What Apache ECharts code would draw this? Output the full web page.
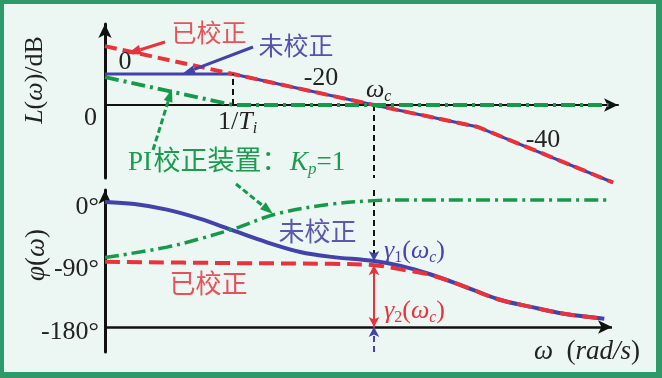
<!DOCTYPE html>
<html><head><meta charset="utf-8">
<script src="https://cdn.jsdelivr.net/npm/echarts@6/dist/echarts.min.js"></script>
<style>
html,body{margin:0;padding:0;background:#ecf7f3}
#c{position:absolute;left:0;top:0;width:662px;height:378px;z-index:0}
#frame{position:absolute;left:0;top:0;width:662px;height:378px;box-sizing:border-box;
border-style:solid;border-color:#2f9a69;border-width:4px 6px 6px 4px;z-index:2;pointer-events:none}
</style>
</head><body><div id="c"></div><div id="frame"></div>
<script>
// ---- data (ω in rad/s, log scale; L in dB; φ in degrees) ----
const magW       = [0.1236, 1, 10, 54.7, 495];
const magUncorr  = [20, 20, 0, -14.2, -50];
const magCorr    = [38, 20, 0, -14.2, -50];
const magPIW     = [0.1236, 1, 10, 460];
const magPI      = [18, 0, 0, 0];
const phUncorrW  = [0.1236, 0.2, 0.34, 0.58, 1, 1.74, 3, 5, 10, 15.5, 25, 43, 76, 130, 223, 430];
const phUncorr   = [0, -3, -11, -24, -41, -58, -72, -79, -85, -92, -104, -121, -140, -151, -161, -168];
const phCorrW    = [0.1236, 1, 5, 10, 15.5, 25, 43, 76, 130, 223, 430];
const phCorr     = [-86, -88, -89, -91, -97, -105, -121, -140, -151, -161, -168];
const phPIW      = [0.1236, 0.34, 0.58, 1, 2.05, 5, 10, 19, 460];
const phPI       = [-80, -65, -53, -39, -17, -3, 2, 3, 3];
const magTickValues   = [0];
const phaseTickValues = [0, -90, -180];
const wTi = 1, wC = 10;

const zip = (xs, ys) => xs.map((x, i) => [x, ys[i]]);
const at = (xs, ys, x) => ys[xs.indexOf(x)];

const RED = '#e8323c', BLUE = '#4242a8', GREEN = '#16994a', BLACK = '#111';
const SERIF = '"Liberation Serif","Times New Roman",serif';
const MIX = '"Liberation Serif","Noto Sans CJK SC",serif';

const chart = echarts.init(document.getElementById('c'), null, {renderer: 'canvas'});

function rich(size, color) {
  const sub = Math.round(size * 0.62);
  return {
    i: {fontStyle: 'italic', fontSize: size, fontFamily: SERIF, fill: color, color: color},
    c: {fontSize: size, fontFamily: MIX, fill: color, color: color, padding: [0, 1.5, 0, 1.5]},
    s: {fontStyle: 'italic', fontSize: sub, fontFamily: SERIF, fill: color, color: color, verticalAlign: 'bottom'},
    d: {fontSize: sub, fontFamily: SERIF, fill: color, color: color, verticalAlign: 'bottom'}
  };
}
function T(x, y, text, color, size, align, extra) {
  return Object.assign({
    type: 'text', x: x, y: y, z: 100,
    style: {text: text, fill: color, fontSize: size, fontFamily: MIX,
      align: align || 'left', textAlign: align || 'left', verticalAlign: 'middle', textVerticalAlign: 'middle',
      lineHeight: size + 4, rich: rich(size, color)}
  }, extra || {});
}
function arrow(x1, y1, x2, y2, color, lw, hl, hw, dash) {
  const a = Math.atan2(y2 - y1, x2 - x1);
  const bx = x2 - hl * Math.cos(a), by = y2 - hl * Math.sin(a);
  const px = -Math.sin(a) * hw / 2, py = Math.cos(a) * hw / 2;
  return [
    {type: 'line', z: 100, shape: {x1: x1, y1: y1, x2: bx, y2: by}, style: {stroke: color, lineWidth: lw, lineDash: dash || null}},
    {type: 'polygon', z: 100, shape: {points: [[x2, y2], [bx + px, by + py], [bx - px, by - py]]}, style: {fill: color}}
  ];
}

const phWcU = at(phUncorrW, phUncorr, wC);
const phWcC = at(phCorrW, phCorr, wC);
const PH_MIN = -216, PH_MAX = 17.3, PH_AXIS = -180;

const option = {
  backgroundColor: 'transparent',
  animation: false,
  grid: [
    {left: 105, top: 24, width: 513, height: 154},
    {left: 105, top: 190, width: 507, height: 162}
  ],
  xAxis: [
    {gridIndex: 0, type: 'log', logBase: 10, min: 0.1236, max: 537,
     axisLine: {onZero: true, lineStyle: {color: BLACK, width: 2}, symbol: ['none', 'arrow'], symbolSize: [10, 14]},
     axisTick: {show: false}, axisLabel: {show: false}, splitLine: {show: false}},
    {gridIndex: 1, type: 'log', logBase: 10, min: 0.1236, max: 488,
     axisLine: {show: false}, axisTick: {show: false}, axisLabel: {show: false}, splitLine: {show: false}}
  ],
  yAxis: [
    {gridIndex: 0, type: 'value', min: -47.1, max: 52.3,
     axisLine: {show: true, onZero: false, lineStyle: {color: BLACK, width: 3}, symbol: ['none', 'arrow'], symbolSize: [10, 14]},
     axisTick: {show: false}, splitLine: {show: false},
     axisLabel: {customValues: magTickValues, formatter: v => String(v), margin: 8,
       fontSize: 26, fontFamily: SERIF, color: '#222', verticalAlign: 'top'}},
    {gridIndex: 1, type: 'value', min: PH_MIN, max: PH_MAX,
     axisLine: {show: true, onZero: false, lineStyle: {color: BLACK, width: 3}, symbol: ['none', 'arrow'], symbolSize: [10, 14]},
     axisTick: {show: false}, splitLine: {show: false},
     axisLabel: {customValues: phaseTickValues, formatter: v => '{a|' + v + '°}', margin: 6,
       rich: {a: {fontSize: 26, fontFamily: SERIF, color: '#222', padding: [10, 0, 0, 0]}}}}
  ],
  series: [
    {type: 'line', xAxisIndex: 0, yAxisIndex: 0, data: zip(magW, magUncorr), clip: false, symbol: 'none',
     lineStyle: {color: BLUE, width: 3}, z: 3,
     markLine: {silent: true, symbol: 'none', label: {show: false},
       lineStyle: {color: BLACK, width: 2, type: [6, 4]},
       data: [
         [{coord: [wTi, 0]}, {coord: [wTi, at(magW, magUncorr, wTi)]}],
         [{coord: [wC, 0]}, {coord: [wC, -47.1]}]
       ]}},
    {type: 'line', xAxisIndex: 0, yAxisIndex: 0, data: zip(magW, magCorr), clip: false, symbol: 'none',
     lineStyle: {color: RED, width: 4, type: [12, 6]}, z: 4},
    {type: 'line', xAxisIndex: 0, yAxisIndex: 0, data: zip(magPIW, magPI), clip: false, symbol: 'none',
     lineStyle: {color: GREEN, width: 4, type: [14, 5, 3, 5]}, z: 5},

    // -180° horizontal axis of the phase plot
    {type: 'line', xAxisIndex: 1, yAxisIndex: 1, data: [], z: 2,
     markLine: {silent: true, label: {show: false}, symbol: ['none', 'arrow'], symbolSize: [10, 14],
       lineStyle: {color: BLACK, width: 2.5, type: 'solid'},
       data: [{yAxis: PH_AXIS}]}},

    {type: 'line', xAxisIndex: 1, yAxisIndex: 1, data: zip(phUncorrW, phUncorr), clip: false, symbol: 'none', smooth: 0.35,
     lineStyle: {color: BLUE, width: 4}, z: 3,
     markLine: {silent: true, label: {show: false}, symbol: 'none',
       data: [
         [{coord: [wC, PH_MAX], lineStyle: {color: BLACK, width: 2, type: [6, 4]}}, {coord: [wC, phWcU + 6]}],
         [{coord: [wC, phWcU + 8], symbol: 'none', lineStyle: {color: BLUE, width: 2, type: 'solid'}},
          {coord: [wC, phWcU], symbol: 'arrow', symbolSize: [8, 10]}],
         [{coord: [wC, phWcC], symbol: 'arrow', symbolSize: [8, 10], lineStyle: {color: RED, width: 2, type: 'solid'}},
          {coord: [wC, PH_AXIS], symbol: 'arrow', symbolSize: [8, 10]}],
         [{coord: [wC, PH_MIN], symbol: 'none', lineStyle: {color: BLUE, width: 2, type: [6, 4]}},
          {coord: [wC, PH_AXIS], symbol: 'arrow', symbolSize: [8, 10]}]
       ]}},
    {type: 'line', xAxisIndex: 1, yAxisIndex: 1, data: zip(phCorrW, phCorr), clip: false, symbol: 'none', smooth: 0.35,
     lineStyle: {color: RED, width: 4, type: [15, 7]}, z: 4},
    {type: 'line', xAxisIndex: 1, yAxisIndex: 1, data: zip(phPIW, phPI), clip: false, symbol: 'none', smooth: 0.35,
     lineStyle: {color: GREEN, width: 3.5, type: [14, 5, 3, 5]}, z: 5}
  ],
  graphic: [].concat(
    [
      T(35, 80, '{i|L}({i|ω})/dB', '#222', 26, 'center', {rotation: Math.PI / 2}),
      T(37, 255, '{i|φ}({i|ω})', '#222', 27, 'center', {rotation: Math.PI / 2}),
      T(170, 35, '{c|已校正}', '#e8505a', 25),
      T(257, 48, '{c|未校正}', '#5252aa', 25),
      T(125, 62, '0', '#222', 26, 'center'),
      T(321, 78, '-20', '#222', 26, 'center'),
      T(366, 90, '{i|ω}{s|c}', '#222', 26),
      T(543, 140, '-40', '#222', 26, 'center'),
      T(218, 122, '1/{i|T}{s|i}', '#222', 26),
      T(128, 163, 'PI{c|校正装置：}{i|K}{s|p}=1', '#1c9a50', 27),
      T(277, 234, '{c|未校正}', '#5a5aac', 26),
      T(168, 286, '{c|已校正}', '#e8505a', 26),
      T(384, 251, '{i|γ}{d|1}({i|ω}{s|c})', '#4646a8', 26),
      T(384, 311, '{i|γ}{d|2}({i|ω}{s|c})', '#e8323c', 26),
      T(534, 352, '{i|ω}  ({i|rad/s})', '#222', 27)
    ],
    arrow(165, 42, 127, 54, RED, 3, 14, 10),
    arrow(253, 47, 182, 74, BLUE, 3, 13, 8),
    arrow(153, 150, 172, 89, GREEN, 3, 13, 9, [6, 3]),
    arrow(236, 184, 273, 214, GREEN, 3, 13, 9, [6, 3])
  )
};
chart.setOption(option);
</script>
</body></html>
